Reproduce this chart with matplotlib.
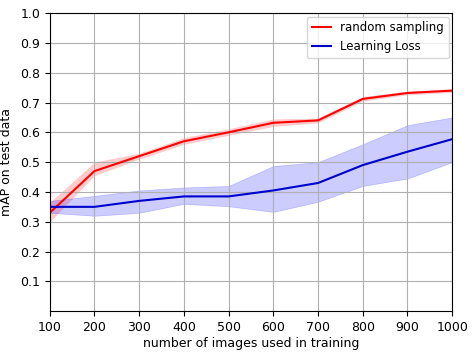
import matplotlib
matplotlib.use('Agg')
import matplotlib.pyplot as plt

n_images = [100, 200, 300, 400, 500, 600, 700, 800, 900, 1000]

random_mean = [0.33, 0.47, 0.52, 0.57, 0.60, 0.632, 0.640, 0.712, 0.732, 0.740]
random_lo = [0.30, 0.455, 0.51, 0.56, 0.59, 0.62, 0.632, 0.705, 0.726, 0.734]
random_hi = [0.365, 0.50, 0.53, 0.582, 0.612, 0.645, 0.648, 0.720, 0.738, 0.746]

ll_mean = [0.35, 0.35, 0.37, 0.385, 0.385, 0.405, 0.43, 0.49, 0.535, 0.577]
ll_lo = [0.33, 0.32, 0.33, 0.36, 0.352, 0.333, 0.367, 0.42, 0.445, 0.50]
ll_hi = [0.37, 0.387, 0.405, 0.415, 0.42, 0.487, 0.50, 0.56, 0.624, 0.65]

yticks = [0.1, 0.2, 0.3, 0.4, 0.5, 0.6, 0.7, 0.8, 0.9, 1.0]

fig = plt.figure(figsize=(4.74, 3.54), dpi=100)
ax = fig.add_axes([0.105, 0.121, 0.849, 0.842])

ax.fill_between(n_images, random_lo, random_hi, color='red', alpha=0.2, linewidth=0)
ax.plot(n_images, random_mean, color='red', linewidth=1.5, label='random sampling')
ax.fill_between(n_images, ll_lo, ll_hi, color='blue', alpha=0.2, linewidth=0.5)
ax.plot(n_images, ll_mean, color='mediumblue', linewidth=1.5, label='Learning Loss')

ax.set_xlim(100, 1000)
ax.set_ylim(0, 1.0)
ax.set_xticks(n_images)
ax.set_yticks(yticks)
ax.tick_params(labelsize=9)
ax.grid(True, color='#b0b0b0', linewidth=0.8)
ax.set_xlabel('number of images used in training', fontsize=9, labelpad=2)
ax.set_ylabel('mAP on test data', fontsize=9, labelpad=5)
ax.legend(loc='upper right', fontsize=8.5, handlelength=1.6, borderaxespad=0.3)

fig.savefig('out.png', dpi=100)
